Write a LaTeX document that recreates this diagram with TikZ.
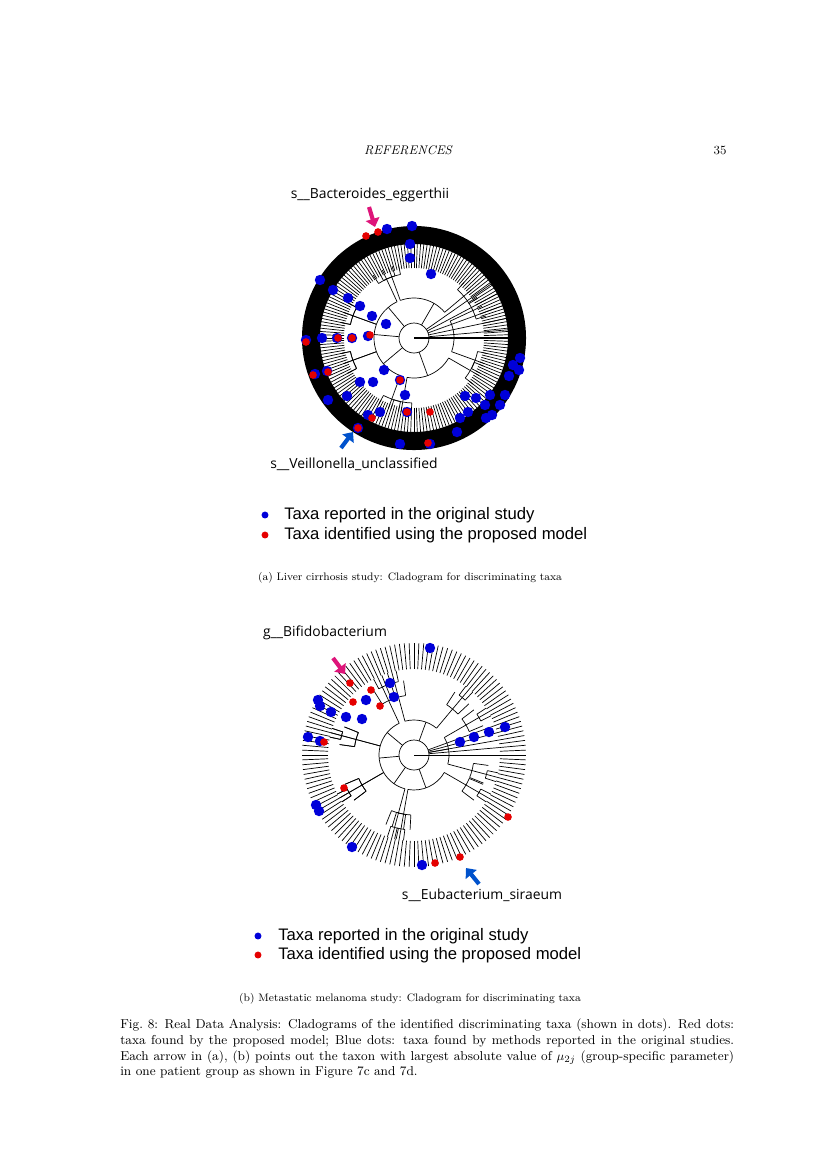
\documentclass[tikz,border=0pt]{standalone}
\usepackage{fontspec}
\newfontfamily\legfont{Liberation Sans}
\newfontfamily\labfont{Open Sans}
\usetikzlibrary{arrows.meta}
\tikzset{
 bdot/.style={circle,fill=blue!85!black,inner sep=0pt,minimum size=7.5pt},
 rdot/.style={circle,fill=red!90!black,inner sep=0pt,minimum size=5.5pt},
 lbdot/.style={circle,fill=blue!85!black,inner sep=0pt,minimum size=5pt},
 lrdot/.style={circle,fill=red!90!black,inner sep=0pt,minimum size=5pt},
 legtext/.style={anchor=west,font=\legfont\fontsize{12}{14}\selectfont,inner sep=0pt},
 lab/.style={font=\labfont\fontsize{10}{12}\selectfont,inner sep=0pt},
 captext/.style={font=\fontsize{7.8}{9}\selectfont,inner sep=0pt},
 marr/.style={line width=3pt,-{Triangle[length=6pt,width=10pt]},color=magenta!70!purple},
 barr/.style={line width=3pt,-{Triangle[length=6pt,width=10pt]},color=blue!60!cyan!80!black},
 br/.style={line width=0.5pt},
}
\begin{document}
\begin{tikzpicture}[x=0.72pt,y=-0.72pt]
\useasboundingbox (0,0) rectangle (827,1169);
\node[font=\itshape\small] (hdr) at (408,150) {REFERENCES};
\node[font=\small] (pg) at (720,150) {35};

% ---------- cladogram (a)
\begin{scope}[shift={(414,338)},yscale=-1]
 \draw[line width=13pt] (0,0) circle (103);
 \foreach \a in {0,2,...,358} \draw[br] (\a:70) -- (\a:95);
 \draw[br] (0,0) circle (15);
 \foreach \a/\b/\c in {0/-20/25,60/40/110,130/115/160,175/160/200,220/200/250,290/260/330}{
   \draw[br] (\a:15) -- (\a:40);
   \draw[br] (\b:40) arc (\b:\c:40);
   \draw[br] (\b:40) -- (\b:65); \draw[br] (\c:40) -- (\c:65);
   \draw[br] (\b-8:65) arc (\b-8:\b+8:65);
   \draw[br] (\c-8:65) arc (\c-8:\c+8:65);
   \foreach \d in {-8,0,8}{\draw[br] (\b+\d:65) -- (\b+\d:75); \draw[br] (\c+\d:65) -- (\c+\d:75);}
 }
 \foreach \a in {5,12,20,28,35} \draw[br] (\a:15) -- (\a:95);
 \draw[line width=1.5pt] (0,0) -- (0:95);
\end{scope}
\foreach \x/\y in {412/226,410/244,410/258,387/229,431/274,320/280,333/290,348/298,360/306,372/316,386/324,306/340,322/338,337/338,352/338,368/336,327/371,315/374,328/400,347/396,360/382,373/382,384/370,400/380,405/395,407/412,380/412,368/415,358/428,400/444,430/444,457/432,460/418,468/412,465/396,476/398,485/405,490/395,500/405,505/395,509/376,513/365,520/358,519/370,486/418,492/415}
  \node[bdot] at (\x,\y) {};
\foreach \x/\y in {366/236,378/232,306/342,338/338,352/338,370/335,313/375,328/372,400/380,407/412,430/412,428/443,372/418,358/428}
  \node[rdot] at (\x,\y) {};
\node[lab] (la1) at (370,195) {s\_\_Bacteroides\_eggerthii};
\coordinate (ma1) at (369,207);
\coordinate (ma2) at (375,227);
\draw[marr] (ma1) -- (ma2);
\node[lab] (la2) at (354,464) {s\_\_Veillonella\_unclassified};
\coordinate (ba1) at (341,448);
\coordinate (ba2) at (353,432);
\draw[barr] (ba1) -- (ba2);

\node[lbdot] (d1) at (265,515) {};
\node[legtext] (t1) at (284,515) {Taxa reported in the original study};
\node[lrdot] (d2) at (265,535) {};
\node[legtext] (t2) at (284,535) {Taxa identified using the proposed model};
\node[captext] (c1) at (410,578) {(a) Liver cirrhosis study: Cladogram for discriminating taxa};

% ---------- cladogram (b)
\begin{scope}[shift={(414,755)},yscale=-1]
 \foreach \a in {0,2.5,...,357.5} \draw[br] (\a:86) -- (\a:112);
 \draw[br] (0,0) circle (15);
 \foreach \a/\b/\c in {10/-15/30,70/50/105,140/115/165,185/165/210,235/210/255,290/260/330}{
   \draw[br] (\a:15) -- (\a:35);
   \draw[br] (\b:35) arc (\b:\c:35);
   \draw[br] (\b:35) -- (\b:60); \draw[br] (\c:35) -- (\c:60);
   \draw[br] (\b-7:60) arc (\b-7:\b+7:60);
   \draw[br] (\c-7:60) arc (\c-7:\c+7:60);
   \foreach \d in {-7,0,7}{\draw[br] (\b+\d:60) -- (\b+\d:75); \draw[br] (\c+\d:60) -- (\c+\d:75);}
   \draw[br] (\b-3:75) arc (\b-3:\b+3:75);
   \draw[br] (\c-3:75) arc (\c-3:\c+3:75);
   \foreach \d in {-3,0,3}{\draw[br] (\b+\d:75) -- (\b+\d:86); \draw[br] (\c+\d:75) -- (\c+\d:86);}
 }
 \foreach \a in {5,10,15,20} \draw[br] (\a:15) -- (\a:86);
 \draw[br] (0,0) -- (0:86);
\end{scope}
\foreach \x/\y in {430/648,390/683,394/697,366/700,346/717,362/719,331/712,320/706,318/700,308/737,320/741,316/805,319/811,352/847,422/865,460/742,474/737,489/732,505/727}
  \node[bdot] at (\x,\y) {};
\foreach \x/\y in {350/683,371/690,380/706,353/702,324/742,344/788,435/863,460/857,508/817}
  \node[rdot] at (\x,\y) {};
\node[lab] (lb1) at (325,633) {g\_\_Bifidobacterium};
\coordinate (mb1) at (333,658);
\coordinate (mb2) at (345,674);
\draw[marr] (mb1) -- (mb2);
\node[lab] (lb2) at (482,895) {s\_\_Eubacterium\_siraeum};
\coordinate (bb1) at (479,884);
\coordinate (bb2) at (466,868);
\draw[barr] (bb1) -- (bb2);

\node[lbdot] (d3) at (258,936) {};
\node[legtext] (t3) at (278,936) {Taxa reported in the original study};
\node[lrdot] (d4) at (258,955) {};
\node[legtext] (t4) at (278,955) {Taxa identified using the proposed model};
\node[captext] (c2) at (410,999) {(b) Metastatic melanoma study: Cladogram for discriminating taxa};

\node[anchor=north west,inner sep=0pt,text width=442pt,align=justify,font=\fontsize{9.3}{11.2}\selectfont] (fig) at (120,1019)
{Fig.~8: Real Data Analysis: Cladograms of the identified discriminating taxa (shown in dots). Red dots: taxa found by the proposed model; Blue dots: taxa found by methods reported in the original studies. Each arrow in (a), (b) points out the taxon with largest absolute value of $\mu_{2j}$ (group-specific parameter) in one patient group as shown in Figure 7c and 7d.};
\end{tikzpicture}
\end{document}
